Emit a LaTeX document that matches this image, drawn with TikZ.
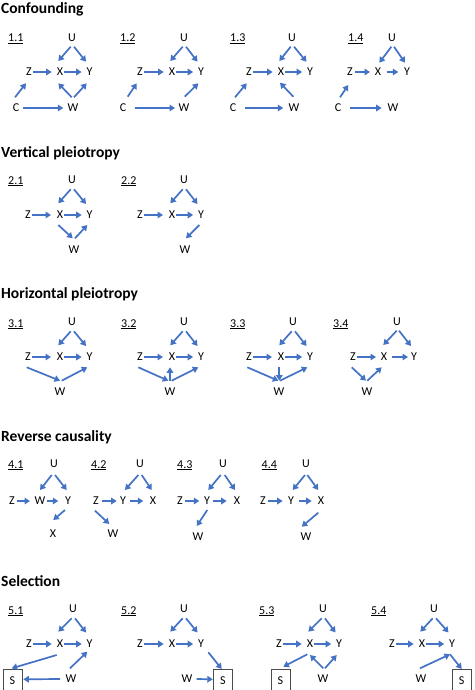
\documentclass[tikz,border=0pt]{standalone}
\usepackage{fontspec}
\setmainfont{Carlito}
\usetikzlibrary{arrows.meta,calc}
\definecolor{arrblue}{RGB}{68,114,196}
\newcommand\ed[4]{\draw[arr] ($(#1)+(#2)$) -- ($(#3)+(#4)$);}
\begin{document}
\begin{tikzpicture}[x=1pt,y=-1pt,
  v/.style={inner sep=0pt,font=\fontsize{12}{14}\selectfont},
  lab/.style={inner sep=0pt,anchor=base west,font=\fontsize{12}{14}\selectfont},
  ttl/.style={inner sep=0pt,anchor=base west,font=\fontsize{15.5}{18}\selectfont\bfseries},
  sbox/.style={draw=black!70,line width=0.8pt,minimum width=19pt,minimum height=23pt,inner sep=0pt,font=\fontsize{12}{14}\selectfont},
  arr/.style={draw=arrblue,line width=1.7pt,-{Triangle[length=5.5pt,width=6.5pt]}}]
\useasboundingbox (0,0) rectangle (474,690);
\fill[white] (0,0) rectangle (474,690);

% ---------- Titles ----------
\node[ttl] (t1) at (1,13.5) {Confounding};
\node[ttl] (t2) at (1,157) {Vertical pleiotropy};
\node[ttl] (t3) at (1,298) {Horizontal pleiotropy};
\node[ttl] (t4) at (1,441) {Reverse causality};
\node[ttl] (t5) at (1,586) {Selection};

% ---------- 1.1 ----------
\node[lab] (aL) at (8,42) {\underline{1.1}};
\node[v] (aU) at (72,37.5) {U};
\node[v] (aZ) at (29,72) {Z};
\node[v] (aX) at (60,72) {X};
\node[v] (aY) at (89.5,72) {Y};
\node[v] (aC) at (16,108) {C};
\node[v] (aW) at (73,108) {W};
\ed{aU}{-1.3,9.2}{aX}{-1.7,-11}
\ed{aU}{2,9.2}{aY}{-3.5,-10.3}
\ed{aZ}{4.3,0}{aX}{-8.3,0}
\ed{aX}{4,0}{aY}{-7.8,0}
\ed{aW}{-1.3,-10.7}{aX}{-1.7,11.3}
\ed{aW}{1,-10.7}{aY}{-2.8,11.3}
\ed{aC}{-1,-10.7}{aZ}{-3,11.3}
\ed{aC}{7.3,0}{aW}{-9.7,0}

% ---------- 1.2 ----------
\node[lab] (bL) at (120,42) {\underline{1.2}};
\node[v] (bU) at (184,37.5) {U};
\node[v] (bZ) at (140,72) {Z};
\node[v] (bX) at (172,72) {X};
\node[v] (bY) at (201,72) {Y};
\node[v] (bC) at (123,108) {C};
\node[v] (bW) at (184,108) {W};
\ed{bU}{-1.3,9.2}{bX}{-1.7,-11}
\ed{bU}{2,9.2}{bY}{-3.5,-10.3}
\ed{bZ}{4.3,0}{bX}{-8.3,0}
\ed{bX}{4,0}{bY}{-7.8,0}
\ed{bC}{4.7,-11.3}{bZ}{-3.3,11.3}
\ed{bC}{11.7,0}{bW}{-9,0}
\ed{bW}{0.7,-11.3}{bY}{-2.7,11.3}

% ---------- 1.3 ----------
\node[lab] (cL) at (230,42) {\underline{1.3}};
\node[v] (cU) at (292,37.5) {U};
\node[v] (cZ) at (249,72) {Z};
\node[v] (cX) at (281,72) {X};
\node[v] (cY) at (310,72) {Y};
\node[v] (cC) at (233,108) {C};
\node[v] (cW) at (294,108) {W};
\ed{cU}{-1.3,9.2}{cX}{-1.7,-11}
\ed{cU}{2,9.2}{cY}{-3.5,-10.3}
\ed{cZ}{4.3,0}{cX}{-8.3,0}
\ed{cX}{4,0}{cY}{-7.8,0}
\ed{cC}{2,-10.7}{cZ}{-2.3,11.3}
\ed{cC}{12,0}{cW}{-10.7,0}
\ed{cW}{-0.7,-11.3}{cX}{-1,10.7}

% ---------- 1.4 ----------
\node[lab] (dL) at (348,42) {\underline{1.4}};
\node[v] (dU) at (392,37.5) {U};
\node[v] (dZ) at (350,72) {Z};
\node[v] (dX) at (378,72) {X};
\node[v] (dY) at (407,72) {Y};
\node[v] (dC) at (338,108) {C};
\node[v] (dW) at (393,108) {W};
\ed{dU}{-0.6,9.2}{dX}{1.3,-9.3}
\ed{dU}{2,9.2}{dY}{-2,-9.3}
\ed{dZ}{5,0}{dX}{-8,0}
\ed{dX}{8.7,0}{dY}{-8.7,0}
\ed{dC}{2,-10.7}{dZ}{-1.7,13}
\ed{dC}{12,0}{dW}{-11.3,0}

% ---------- 2.1 ----------
\node[lab] (eL) at (8,184) {\underline{2.1}};
\node[v] (eU) at (72,180) {U};
\node[v] (eZ) at (28,215) {Z};
\node[v] (eX) at (60,215) {X};
\node[v] (eY) at (89.5,215) {Y};
\node[v] (eW) at (74,250) {W};
\ed{eU}{-1.3,9.3}{eX}{-1.7,-11.7}
\ed{eU}{2,9.3}{eY}{-3.5,-11}
\ed{eZ}{3.9,0}{eX}{-9,0}
\ed{eX}{4,0}{eY}{-7.8,0}
\ed{eX}{-1.7,10}{eW}{-1.3,-11.7}
\ed{eW}{1,-11.7}{eY}{-2.2,10}

% ---------- 2.2 ----------
\node[lab] (fL) at (121,184) {\underline{2.2}};
\node[v] (fU) at (184,180) {U};
\node[v] (fZ) at (140,215) {Z};
\node[v] (fX) at (172,215) {X};
\node[v] (fY) at (201,215) {Y};
\node[v] (fW) at (185,250) {W};
\ed{fU}{-1.3,9.3}{fX}{-1.7,-11.7}
\ed{fU}{2,9.3}{fY}{-3.5,-11}
\ed{fZ}{3.9,0}{fX}{-9,0}
\ed{fX}{4,0}{fY}{-7.8,0}
\ed{fY}{-1.7,10}{fW}{1,-11.7}

% ---------- 3.1 ----------
\node[lab] (gL) at (8,327) {\underline{3.1}};
\node[v] (gU) at (72,322) {U};
\node[v] (gZ) at (28,357) {Z};
\node[v] (gX) at (60,357) {X};
\node[v] (gY) at (89.5,357) {Y};
\node[v] (gW) at (60,392) {W};
\ed{gU}{-1.3,9.3}{gX}{-1.7,-11.7}
\ed{gU}{2,9.3}{gY}{-3.5,-11}
\ed{gZ}{3.9,0}{gX}{-9,0}
\ed{gX}{4,0}{gY}{-7.8,0}
\ed{gZ}{-1.3,10.3}{gW}{0,-11.3}
\ed{gW}{1.7,-11.3}{gY}{-2.2,10.3}

% ---------- 3.2 ----------
\node[lab] (hL) at (121,327) {\underline{3.2}};
\node[v] (hU) at (184,322) {U};
\node[v] (hZ) at (140,357) {Z};
\node[v] (hX) at (172,357) {X};
\node[v] (hY) at (201,357) {Y};
\node[v] (hW) at (170,392) {W};
\ed{hU}{-1.3,9.3}{hX}{-1.7,-11.7}
\ed{hU}{2,9.3}{hY}{-3.5,-11}
\ed{hZ}{3.9,0}{hX}{-9,0}
\ed{hX}{4,0}{hY}{-7.8,0}
\ed{hZ}{-1.7,10.3}{hW}{-1.7,-11.3}
\ed{hW}{0,-11.3}{hX}{-2,10.3}
\ed{hW}{1.7,-11.3}{hY}{-2.7,10.3}

% ---------- 3.3 ----------
\node[lab] (iL) at (230,327) {\underline{3.3}};
\node[v] (iU) at (293,322) {U};
\node[v] (iZ) at (249,357) {Z};
\node[v] (iX) at (281,357) {X};
\node[v] (iY) at (310,357) {Y};
\node[v] (iW) at (279,392) {W};
\ed{iU}{-1.3,9.3}{iX}{-1.7,-11.7}
\ed{iU}{2,9.3}{iY}{-3.5,-11}
\ed{iZ}{3.9,0}{iX}{-9,0}
\ed{iX}{4,0}{iY}{-7.8,0}
\ed{iZ}{-1.7,10.3}{iW}{-0.7,-11.3}
\ed{iX}{-1.7,10.3}{iW}{0.3,-11.3}
\ed{iW}{1,-11.3}{iY}{-2.7,10.3}

% ---------- 3.4 ----------
\node[lab] (jL) at (333,327) {\underline{3.4}};
\node[v] (jU) at (397,322) {U};
\node[v] (jZ) at (353,357) {Z};
\node[v] (jX) at (384,357) {X};
\node[v] (jY) at (414,357) {Y};
\node[v] (jW) at (367,392) {W};
\ed{jU}{-0.3,8.7}{jX}{-0.7,-12}
\ed{jU}{2,8.7}{jY}{-3,-11}
\ed{jZ}{3.7,0}{jX}{-8,0}
\ed{jX}{7.7,0}{jY}{-6,0}
\ed{jZ}{-1.3,10.3}{jW}{-1,-11.3}
\ed{jW}{0.3,-11.3}{jX}{-2.3,10.3}

% ---------- 4.1 ----------
\node[lab] (kL) at (8,468) {\underline{4.1}};
\node[v] (kU) at (54,464) {U};
\node[v] (kZ) at (12,501) {Z};
\node[v] (kW) at (40,501) {W};
\node[v] (kY) at (68,501) {Y};
\node[v] (kX) at (53,533.5) {X};
\ed{kU}{-2.3,11}{kW}{0,-11}
\ed{kU}{1,11}{kY}{-1.3,-11}
\ed{kZ}{4.7,0}{kW}{-10,0}
\ed{kW}{6.7,0}{kY}{-9.7,0}
\ed{kY}{-3,9}{kX}{0.3,-13.5}

% ---------- 4.2 ----------
\node[lab] (lL) at (91,468) {\underline{4.2}};
\node[v] (lU) at (140,464) {U};
\node[v] (lZ) at (96,501) {Z};
\node[v] (lY) at (123,501) {Y};
\node[v] (lX) at (153,501) {X};
\node[v] (lW) at (113,534) {W};
\ed{lU}{-1.7,11}{lY}{2,-11}
\ed{lU}{1.7,11}{lX}{-1.3,-11}
\ed{lZ}{5.7,0}{lY}{-6.3,0}
\ed{lY}{7,0}{lX}{-9.7,0}
\ed{lZ}{-1,9.7}{lW}{-3.7,-10}

% ---------- 4.3 ----------
\node[lab] (mL) at (177,468) {\underline{4.3}};
\node[v] (mU) at (223,464) {U};
\node[v] (mZ) at (180,501) {Z};
\node[v] (mY) at (207,501) {Y};
\node[v] (mX) at (237,501) {X};
\node[v] (mW) at (198,537) {W};
\ed{mU}{-2.3,11}{mY}{1.3,-11}
\ed{mU}{1.7,11}{mX}{-2,-11}
\ed{mZ}{5,0}{mY}{-7.7,0}
\ed{mY}{6.3,0}{mX}{-10.3,0}
\ed{mY}{0.3,9}{mW}{-1.3,-11}

% ---------- 4.4 ----------
\node[lab] (nL) at (261.5,468) {\underline{4.4}};
\node[v] (nU) at (306,464) {U};
\node[v] (nZ) at (263,501) {Z};
\node[v] (nY) at (291,501) {Y};
\node[v] (nX) at (321,501) {X};
\node[v] (nW) at (306,537) {W};
\ed{nU}{-1,11}{nY}{1.7,-11}
\ed{nU}{1.3,11}{nX}{-2.7,-11}
\ed{nZ}{5.3,0}{nY}{-8.3,0}
\ed{nY}{8.3,0}{nX}{-9.3,0}
\ed{nX}{-2.7,11.7}{nW}{-4.3,-10.3}

% ---------- 5.1 ----------
\node[lab] (oL) at (8,614) {\underline{5.1}};
\node[v] (oU) at (73,609) {U};
\node[v] (oZ) at (29,644) {Z};
\node[v] (oX) at (60,644) {X};
\node[v] (oY) at (89.5,644) {Y};
\node[v] (oW) at (71,679) {W};
\node[sbox] (oS) at (12.5,680.5) {S};
\ed{oU}{-1.3,9.3}{oX}{-1.7,-12.3}
\ed{oU}{2,9.3}{oY}{-3.5,-11.5}
\ed{oZ}{4.3,0}{oX}{-8.3,0}
\ed{oX}{4,0}{oY}{-7.8,0}
\ed{oX}{-3.3,11}{oS}{-0.8,-12.2}
\ed{oW}{-11,0}{oS}{10.8,-1.2}
\ed{oW}{-1,-10.7}{oY}{-2.2,7.7}

% ---------- 5.2 ----------
\node[lab] (pL) at (121,614) {\underline{5.2}};
\node[v] (pU) at (184,609) {U};
\node[v] (pZ) at (140,644) {Z};
\node[v] (pX) at (172,644) {X};
\node[v] (pY) at (201,644) {Y};
\node[v] (pW) at (187,679) {W};
\node[sbox] (pS) at (222.8,680.5) {S};
\ed{pU}{-1.3,9.3}{pX}{-1.7,-12.3}
\ed{pU}{2,9.3}{pY}{-3.5,-11.5}
\ed{pZ}{4.3,0}{pX}{-8.3,0}
\ed{pX}{4,0}{pY}{-7.8,0}
\ed{pY}{7.3,8.3}{pS}{-1.1,-11.5}
\ed{pW}{9.7,0}{pS}{-10,-1.2}

% ---------- 5.3 ----------
\node[lab] (qL) at (259,614) {\underline{5.3}};
\node[v] (qU) at (323,609) {U};
\node[v] (qZ) at (279,644) {Z};
\node[v] (qX) at (310,644) {X};
\node[v] (qY) at (339,644) {Y};
\node[v] (qW) at (323,679) {W};
\node[sbox] (qS) at (280.4,680.5) {S};
\ed{qU}{-1.3,9.3}{qX}{-1.7,-12.3}
\ed{qU}{2,9.3}{qY}{-3.5,-11.5}
\ed{qZ}{4.3,0}{qX}{-8.3,0}
\ed{qX}{4,0}{qY}{-7.8,0}
\ed{qX}{-2.7,10.3}{qS}{2.9,-13.8}
\ed{qW}{0.3,-10.7}{qX}{0,11}
\ed{qW}{2,-10.7}{qY}{-2.3,11}

% ---------- 5.4 ----------
\node[lab] (rL) at (371,614) {\underline{5.4}};
\node[v] (rU) at (434,609) {U};
\node[v] (rZ) at (392,644) {Z};
\node[v] (rX) at (422,644) {X};
\node[v] (rY) at (452,644) {Y};
\node[v] (rW) at (421,679) {W};
\node[sbox] (rS) at (461.5,680.5) {S};
\ed{rU}{-1.3,9.3}{rX}{-1.7,-12.3}
\ed{rU}{2,9.3}{rY}{-3.5,-11.5}
\ed{rZ}{4.3,0}{rX}{-8.3,0}
\ed{rX}{4,0}{rY}{-7.8,0}
\ed{rW}{-1,-10.7}{rY}{-2,10.3}
\ed{rY}{-2,10.3}{rS}{0.2,-11.5}
\end{tikzpicture}
\end{document}
